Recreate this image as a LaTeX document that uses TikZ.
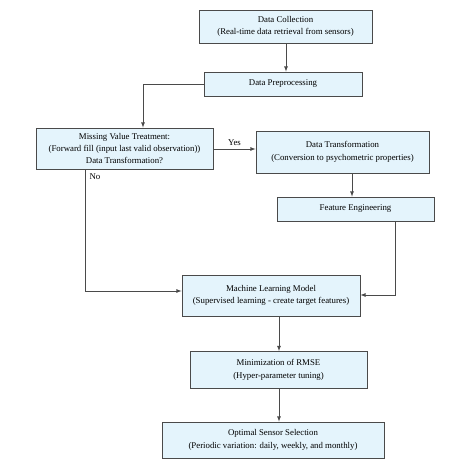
\documentclass[tikz,border=0pt]{standalone}
\usepackage{fontspec}
\setmainfont{Liberation Serif}
\usepackage{xcolor}
\usepackage{tikz}
\usetikzlibrary{calc, positioning}

\definecolor{boxfill}{HTML}{E4F4FC}
\definecolor{edgegray}{HTML}{4A4A4A}

\begin{document}
\begin{tikzpicture}[>=latex, x=1pt, y=-1pt,
    box/.style={draw=edgegray, fill=boxfill, line width=0.8pt, align=center,
        inner sep=1pt, font=\fontsize{8.8}{12.4}\selectfont},
    flow/.style={->, draw=edgegray, line width=0.8pt}]
    \useasboundingbox[fill=white] (0,0) rectangle (474,474);

    % Các khối của sơ đồ
    \node[box, minimum width=173pt, minimum height=33pt] (collect) at (285.5,26.5)
        {Data Collection\\(Real-time data retrieval from sensors)};
    \node[box, minimum width=158pt, minimum height=24pt] (prep) at (283,84)
        {Data Preprocessing};
    \node[box, minimum width=177pt, minimum height=41pt] (missing) at (124.5,148.5)
        {Missing Value Treatment:\\(Forward fill (input last valid observation))\\Data Transformation?};
    \node[box, minimum width=173pt, minimum height=42pt] (transf) at (342.5,152)
        {Data Transformation\\(Conversion to psychometric properties)};
    \node[box, minimum width=157pt, minimum height=24pt] (feature) at (355.5,209)
        {Feature Engineering};
    \node[box, minimum width=178pt, minimum height=41pt] (model) at (271,295.5)
        {Machine Learning Model\\(Supervised learning - create target features)};
    \node[box, minimum width=177pt, minimum height=37pt] (rmse) at (278.5,370)
        {Minimization of RMSE\\(Hyper-parameter tuning)};
    \node[box, minimum width=222pt, minimum height=36pt] (optimal) at (273,440)
        {Optimal Sensor Selection\\(Periodic variation: daily, weekly, and monthly)};

    % Điểm gấp khúc
    \coordinate (nocorner) at (85,291);
    \coordinate (fecorner) at (395,295);

    % Các mũi tên
    \draw[flow] ([xshift=0.5pt]collect.south) -- ([xshift=0.5pt]collect.south |- prep.north);
    \draw[flow] (prep.west) -| ([xshift=18.5pt]missing.north);
    \draw[flow] ([yshift=-0.5pt]missing.east) -- ([yshift=-0.5pt]missing.east -| transf.west)
        node[midway, above, font=\fontsize{8.8}{10}\selectfont] {Yes};
    \draw[flow] ([xshift=9.5pt]transf.south) -- ([xshift=9.5pt]transf.south |- feature.north);
    \draw[flow] (missing.south -| nocorner) -- (nocorner) -- (nocorner -| model.west);
    \node[font=\fontsize{8.8}{10}\selectfont, anchor=west] (nolabel) at (86,177) {No};
    \draw[flow] (feature.south -| fecorner) -- (fecorner) -- (fecorner -| model.east);
    \draw[flow] ([xshift=8pt]model.south) -- ([xshift=8pt]model.south |- rmse.north);
    \draw[flow] ([xshift=0.5pt]rmse.south) -- ([xshift=0.5pt]rmse.south |- optimal.north);

\end{tikzpicture}
\end{document}
